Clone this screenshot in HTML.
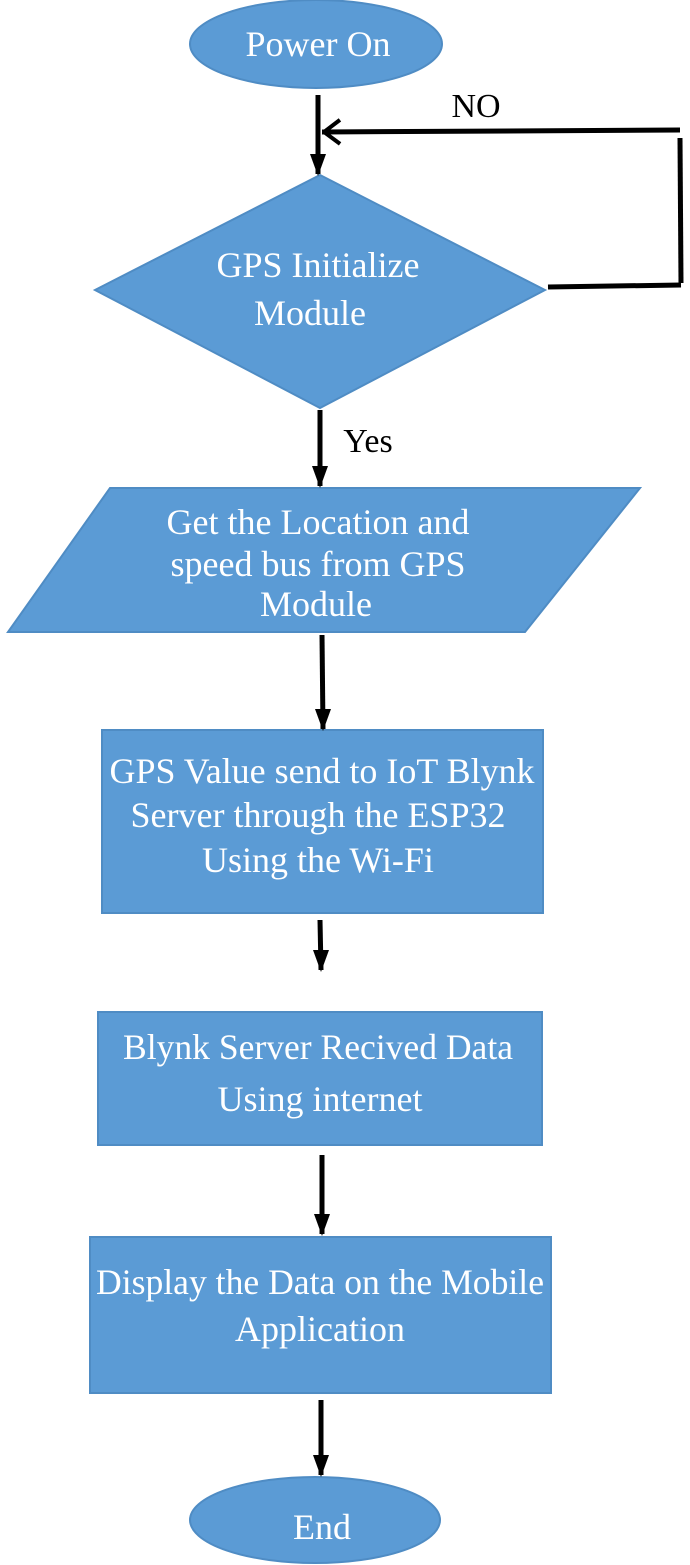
<!DOCTYPE html>
<html><head><style>body{margin:0;background:#fff}svg{display:block}text{font-family:"Liberation Serif",serif;font-size:36px;fill:#fff;text-anchor:middle}</style></head>
<body>
<svg width="690" height="1565" viewBox="0 0 690 1565">
<defs><marker id="a" viewBox="0 0 16 22" markerWidth="16" markerHeight="22" refX="8" refY="20" orient="0" markerUnits="userSpaceOnUse"><path d="M0,0 L16,0 L8,22 z" fill="#000"/></marker>
<marker id="a2" viewBox="0 0 20 28" markerWidth="20" markerHeight="28" refX="20" refY="14" orient="auto" markerUnits="userSpaceOnUse"><path d="M2,2 L18,14 L2,26" fill="none" stroke="#000" stroke-width="4"/></marker></defs>
<g fill="#5b9bd5" stroke="#4f8cc4" stroke-width="2">
<ellipse cx="316" cy="44" rx="126" ry="44"/>
<polygon points="320,175 545,290 320,408 95,290"/>
<polygon points="110,488 640,488 525,632 8,632"/>
<rect x="102" y="730" width="441" height="183"/>
<rect x="98" y="1012" width="444" height="133"/>
<rect x="90" y="1237" width="461" height="156"/>
<ellipse cx="315" cy="1520" rx="125" ry="43"/>
</g>
<g stroke="#000" stroke-width="5" fill="none">
<line x1="318" y1="95" x2="318" y2="174" marker-end="url(#a)"/>
<line x1="680" y1="130" x2="322" y2="132" marker-end="url(#a2)"/>
<line x1="680" y1="138" x2="681" y2="283"/>
<line x1="548" y1="287" x2="681" y2="285"/>
<line x1="320" y1="410" x2="320" y2="486" marker-end="url(#a)"/>
<line x1="322" y1="635" x2="323" y2="729" marker-end="url(#a)"/>
<line x1="320" y1="920" x2="321" y2="970" marker-end="url(#a)"/>
<line x1="322" y1="1155" x2="322" y2="1234" marker-end="url(#a)"/>
<line x1="321" y1="1400" x2="321" y2="1475" marker-end="url(#a)"/>
</g>
<g textLength="">
<text x="318" y="56">Power On</text>
<text x="318" y="277">GPS Initialize</text>
<text x="310" y="325">Module</text>
<text x="318" y="534">Get the Location and</text>
<text x="318" y="576">speed bus from GPS</text>
<text x="316" y="616">Module</text>
<text x="322" y="783" textLength="425" lengthAdjust="spacingAndGlyphs">GPS Value send to IoT Blynk</text>
<text x="318" y="827">Server through the ESP32</text>
<text x="318" y="872">Using the Wi-Fi</text>
<text x="318" y="1059" textLength="390" lengthAdjust="spacingAndGlyphs">Blynk Server Recived Data</text>
<text x="320" y="1111">Using internet</text>
<text x="320" y="1294" textLength="448" lengthAdjust="spacingAndGlyphs">Display the Data on the Mobile</text>
<text x="320" y="1341">Application</text>
<text x="322" y="1539">End</text>
</g>
<text x="476" y="117" style="fill:#000;font-size:34px">NO</text>
<text x="368" y="452" style="fill:#000;font-size:34px">Yes</text>
</svg>
</body></html>
